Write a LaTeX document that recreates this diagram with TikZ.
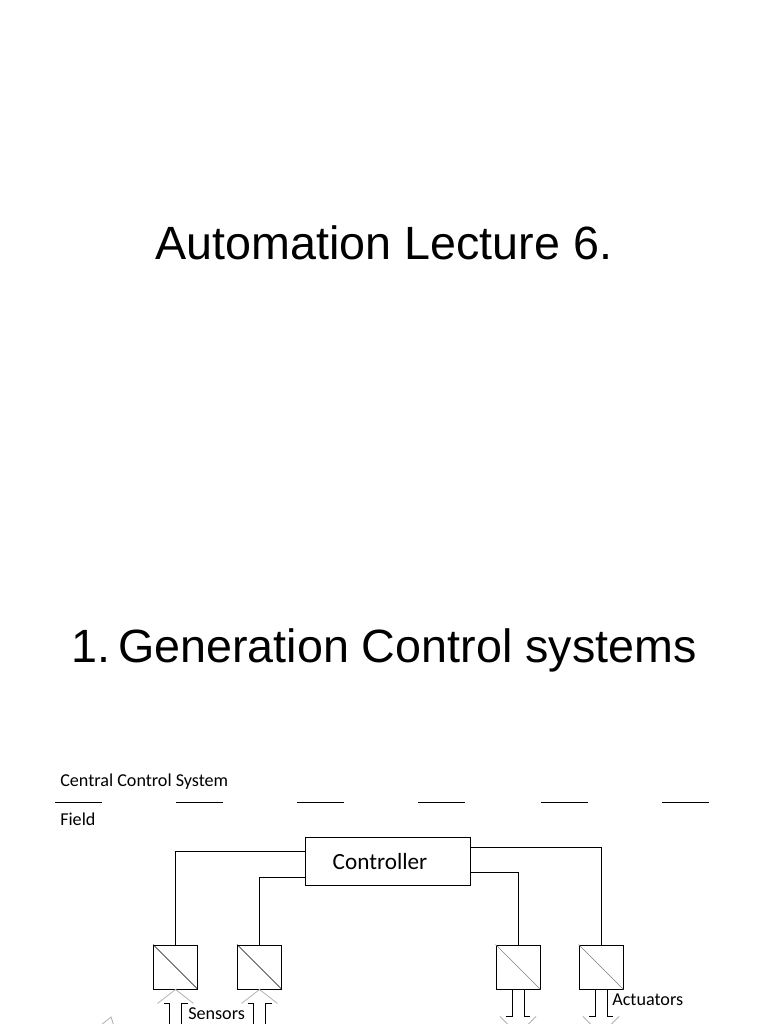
\documentclass[tikz,border=0pt]{standalone}
\usepackage{fontspec}
\usetikzlibrary{calc}
\setmainfont{Liberation Sans}
\newfontfamily\smallf{Carlito}
\begin{document}
\begin{tikzpicture}[x=0.75pt,y=-0.75pt,
  wire/.style={line width=0.7pt},
  conv/.style={draw,line width=0.7pt,minimum width=33pt,minimum height=33pt,inner sep=0pt},
  hollow/.style={line width=0.7pt,draw=black},
  lbl/.style={font=\smallf\fontsize{13.6}{16}\selectfont,inner sep=0pt,anchor=west}]
\useasboundingbox (0,0) rectangle (768,1024);
\clip (0,0) rectangle (768,1024);
\node (title) at (384,243) {\fontsize{35}{42}\selectfont Automation Lecture 6.};
\node (gen) at (384,650) {\fontsize{35}{42}\selectfont 1.\,Generation Control systems};
\node[lbl] (ccs) at (60,782) {Central Control System};
\node[lbl] (field) at (60,819) {Field};
\foreach \a in {55,176,297,418,541,662} \draw[wire] (\a,802) -- ++(47,0);
\node[draw,line width=0.7pt,minimum width=123.75pt,minimum height=36pt,inner sep=0pt] (ctrl) at (387.5,861) {};
\node[font=\smallf\fontsize{17.4}{20}\selectfont] (ctrlt) at (380,862) {Controller};
\node[conv] (s1) at (175.5,967) {};
\node[conv] (s2) at (259.5,967) {};
\node[conv] (a1) at (518,967) {};
\node[conv] (a2) at (601,967) {};
\foreach \n in {s1,s2} \draw[line width=0.4pt] (\n.north west) -- (\n.south east);
\foreach \n in {a1,a2} \draw[line width=0.4pt,gray] (\n.north west) -- (\n.south east);
\draw[wire] (ctrl.west |- 0,851) -| (s1.north);
\draw[wire] (ctrl.west |- 0,877) -| (s2.north);
\draw[wire] (ctrl.east |- 0,847) -| (a2.north);
\draw[wire] (ctrl.east |- 0,872) -| (a1.north);
% sensor arrows (up)
\foreach \n in {s1,s2}{
  \draw[line width=0.6pt,gray!60] ($(\n.south)+(-18,14)$) -- (\n.south) -- ($(\n.south)+(18,14)$);
  \draw[hollow] ($(\n.south)+(-12,14)$) -- ($(\n.south)+(-6,14)$) -- ($(\n.south)+(-6,40)$);
  \draw[hollow] ($(\n.south)+(12,14)$) -- ($(\n.south)+(6,14)$) -- ($(\n.south)+(6,40)$);
}
% actuator arrows (down)
\foreach \n in {a1,a2}{
  \draw[hollow] ($(\n.south)+(-6,0)$) -- ($(\n.south)+(-6,27)$) -- ($(\n.south)+(-12,27)$);
  \draw[hollow] ($(\n.south)+(6,0)$) -- ($(\n.south)+(6,27)$) -- ($(\n.south)+(12,27)$);
  \draw[line width=0.6pt,gray!60] ($(\n.south)+(-18,27)$) -- ($(\n.south)+(0,45)$) -- ($(\n.south)+(18,27)$);
}
\node[lbl] (sens) at (188,1014) {Sensors};
\node[lbl] (act) at (612,1000) {Actuators};
\draw[line width=0.6pt,gray!60] (100,1026) -- (111,1017) -- (114,1026);
\end{tikzpicture}
\end{document}
